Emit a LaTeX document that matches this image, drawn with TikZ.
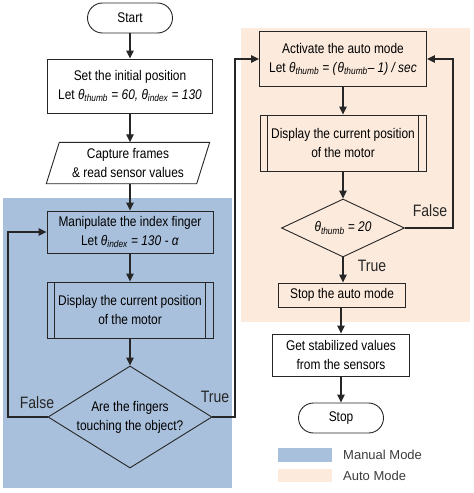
\documentclass[tikz,border=0pt]{standalone}
\usepackage{fontspec}
\setmainfont{Liberation Sans}[FakeStretch=0.85]
\newfontfamily\legendfont{Liberation Sans}
\usetikzlibrary{arrows.meta,shapes.geometric}
\definecolor{manual}{HTML}{A9C0DC}
\definecolor{automode}{HTML}{FCEADC}
\definecolor{ink}{HTML}{262626}
\definecolor{legendink}{HTML}{3C3C3C}
\newcommand{\thsub}[1]{\textit{θ}\textsubscript{\itshape #1}}
\begin{document}
\begin{tikzpicture}[x=1pt,y=-1pt,
  box/.style={draw=ink, line width=0.9pt, align=center, inner sep=0pt,
    font=\fontsize{14}{19}\selectfont},
  term/.style={box, rounded corners=15pt, minimum width=85pt, minimum height=30pt},
  dec/.style={box, diamond},
  plain/.style={align=center, inner sep=0pt, font=\fontsize{14}{19}\selectfont},
  lbl/.style={inner sep=0pt, font=\fontsize{16.5}{19}\selectfont, text=ink},
  arr/.style={draw=ink, line width=1.1pt, -{Triangle[length=8pt,width=7.5pt]}},
  legtxt/.style={inner sep=0pt, anchor=west, text=legendink, font=\legendfont\fontsize{13}{15}\selectfont}
]
\useasboundingbox (0,0) rectangle (474,493);
\fill[white] (0,0) rectangle (474,493);
% mode regions
\fill[manual] (3,198) rectangle (232,488);
\fill[automode] (241,28) rectangle (470,322);

% left column
\node[term, fill=white] (start) at (130,18) {Start};
\node[box, fill=white, minimum width=165pt, minimum height=54pt] (init) at (130,86)
  {Set the initial position\\Let \thsub{thumb}\textit{ = 60, }\thsub{index}\textit{ = 130}};
\node[plain, minimum width=150pt, minimum height=41pt] (cap) at (128,163)
  {Capture frames\\\& read sensor values};
\draw[ink, line width=0.9pt, fill=white]
  ([xshift=-6.5pt]cap.south west) -- ([xshift=6.5pt]cap.north west)
  -- ([xshift=6.5pt]cap.north east) -- ([xshift=-6.5pt]cap.south east) -- cycle;
\node[plain] at (cap) {Capture frames\\\& read sensor values};
\node[box, minimum width=166pt, minimum height=42pt] (manip) at (130,232)
  {Manipulate the index finger\\Let \thsub{index}\textit{ = 130 - α}};
\node[box, minimum width=166pt, minimum height=56pt] (disp1) at (130,310)
  {Display the current position\\of the motor};
\draw[ink, line width=0.9pt] ([xshift=8pt]disp1.north west) -- ([xshift=8pt]disp1.south west);
\draw[ink, line width=0.9pt] ([xshift=-8pt]disp1.north east) -- ([xshift=-8pt]disp1.south east);
\node[dec, aspect=1.608, minimum width=164pt, minimum height=102pt] (d1) at (130,417)
  {Are the fingers\\touching the object?};

% right column
\node[box, minimum width=167pt, minimum height=55pt] (act) at (343,59)
  {Activate the auto mode\\Let \thsub{thumb}\textit{ = (}\thsub{thumb}\textit{– 1) / sec}};
\node[box, minimum width=166pt, minimum height=56pt] (disp2) at (343,143)
  {Display the current position\\of the motor};
\draw[ink, line width=0.9pt] ([xshift=8pt]disp2.north west) -- ([xshift=8pt]disp2.south west);
\draw[ink, line width=0.9pt] ([xshift=-8pt]disp2.north east) -- ([xshift=-8pt]disp2.south east);
\node[dec, aspect=2.12, minimum width=123pt, minimum height=58pt] (d2) at (343,228)
  {\thsub{thumb}\textit{ = 20}};
\node[box, minimum width=127pt, minimum height=24pt] (stopauto) at (342,295)
  {Stop the auto mode};
\node[box, fill=white, minimum width=137pt, minimum height=42pt] (stab) at (341,355)
  {Get stabilized values\\from the sensors};
\node[term, fill=white] (stop) at (341,418) {Stop};

% connectors
\draw[arr] (start) -- (init);
\draw[arr] (init) -- (init |- cap.north);
\draw[arr] (cap.south -| manip) -- (manip);
\draw[arr] (manip) -- (disp1);
\draw[arr] (disp1) -- (d1);
\coordinate (fl) at (8,417);
\draw[arr] (d1.west) -- (fl) |- (manip.west);
\coordinate (tr) at (235,417);
\draw[arr] (d1.east) -- (tr) |- (act.west);
\draw[arr] (act) -- (disp2);
\draw[arr] (disp2) -- (d2);
\coordinate (fr) at (453,228);
\draw[arr] (d2.east) -- (fr) |- (act.east);
\draw[arr] (d2.south) -- (d2.south |- stopauto.north);
\draw[arr] (stopauto.south -| stab) -- (stab);
\draw[arr] (stab) -- (stop);

% labels
\node[lbl] (lf) at (37,403) {False};
\node[lbl] (lt) at (215,397) {True};
\node[lbl] (rf) at (430,211) {False};
\node[lbl] (rt) at (372,266) {True};

% legend
\fill[manual] (278,448) rectangle (332,462);
\fill[automode] (278,469) rectangle (332,482);
\node[legtxt] (lm) at (343,455) {Manual Mode};
\node[legtxt] (la) at (343,476) {Auto Mode};
\end{tikzpicture}
\end{document}
